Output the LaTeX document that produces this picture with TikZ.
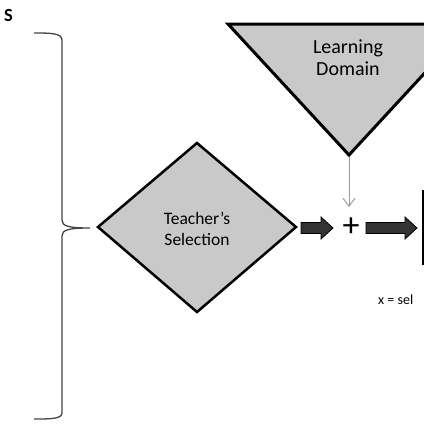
\documentclass[tikz,border=0pt]{standalone}
\usepackage{fontspec}
\setmainfont{Carlito}
\usetikzlibrary{arrows.meta}
\definecolor{shapegray}{HTML}{C9C9C9}
\definecolor{arrowfill}{HTML}{333333}
\definecolor{thingray}{HTML}{9A9A9A}
\definecolor{bracecol}{HTML}{444444}
\tikzset{
  shapefill/.style={fill=shapegray, draw=black, line join=miter},
  fatarrow/.style={fill=arrowfill, draw=black, line width=0.8pt, line join=miter},
  lbl/.style={inner sep=0pt, align=center},
}
\begin{document}
\begin{tikzpicture}[x=1pt,y=-1pt]
\useasboundingbox (0,0) rectangle (424,424);
\clip (0,0) rectangle (424,424);
% S label
\node[inner sep=0pt, font=\fontsize{18.5}{20}\selectfont\bfseries] (s) at (8.5,15) {S};
% brace
\draw[bracecol, line width=1.3pt]
  (34,33) .. controls (50,33) and (62,33) .. (62,40)
  -- (62,220) .. controls (62,226) and (68,228) .. (90,228)
  .. controls (68,228) and (62,230) .. (62,236)
  -- (62,413) .. controls (62,419) and (50,419) .. (34,419);
% triangle
\draw[shapefill, line width=3pt] (228,24) -- (470,24) -- (349,155) -- cycle;
\coordinate (apex) at (349,157);
\node[lbl, font=\fontsize{20}{22}\selectfont] (ld) at (348,58) {Learning\\Domain};
% diamond
\draw[shapefill, line width=2.5pt] (98,227) -- (197,143) -- (296,227) -- (197,312) -- cycle;
\node[lbl, font=\fontsize{17.5}{21.5}\selectfont] (ts) at (197,229) {Teacher’s\\Selection};
% plus
\node[inner sep=0pt, font=\fontsize{34}{34}\selectfont] (plus) at (351,227) {+};
\coordinate (plustop) at (349,207);
% thin grey arrow
\draw[draw=thingray, line width=1pt, -{Straight Barb[length=8pt,width=12pt]}] (apex) -- (plustop);
% fat arrows
\draw[fatarrow] (301,222.5) -- (321,222.5) -- (321,217) -- (333,228) -- (321,239) -- (321,233.5) -- (301,233.5) -- cycle;
\draw[fatarrow] (366,222.5) -- (405,222.5) -- (405,217) -- (417,228) -- (405,239) -- (405,233.5) -- (366,233.5) -- cycle;
% box edge
\draw[line width=3pt] (423,190) -- (423,265);
% x = sel
\node[inner sep=0pt, anchor=west, font=\fontsize{14}{16}\selectfont] (xsel) at (378,300) {x = sel};
\end{tikzpicture}
\end{document}
